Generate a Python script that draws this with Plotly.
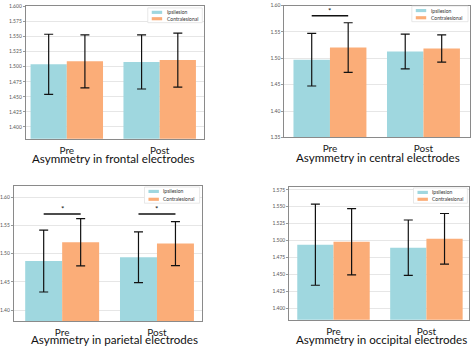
import plotly.graph_objects as go

W, H = 474, 351

categories = ["Pre", "Post"]
series_names = ["Ipsilesion", "Contralesional"]
titles = ["Asymmetry in frontal electrodes", "Asymmetry in central electrodes",
          "Asymmetry in parietal electrodes", "Asymmetry in occipital electrodes"]

# means per panel: [ipsi(Pre, Post), contra(Pre, Post)]
frontal_ipsi = [1.504, 1.508]
frontal_contra = [1.509, 1.511]
frontal_ipsi_err = [0.050, 0.045]
frontal_contra_err = [0.044, 0.045]

central_ipsi = [1.4975, 1.513]
central_contra = [1.5205, 1.5187]
central_ipsi_err = [0.050, 0.033]
central_contra_err = [0.047, 0.026]

parietal_ipsi = [1.487, 1.4936]
parietal_contra = [1.5203, 1.518]
parietal_ipsi_err = [0.055, 0.045]
parietal_contra_err = [0.042, 0.039]

occipital_ipsi = [1.4937, 1.4893]
occipital_contra = [1.4981, 1.5024]
occipital_ipsi_err = [0.060, 0.041]
occipital_contra_err = [0.049, 0.0375]

# significance bars: (panel index, category index, y value)
sig_marks = [(1, 0, 1.581), (2, 0, 1.5703), (2, 1, 1.5703)]

y_ticks = [
    [1.400, 1.425, 1.450, 1.475, 1.500, 1.525, 1.550, 1.575, 1.600],
    [1.35, 1.40, 1.45, 1.50, 1.55, 1.60],
    [1.40, 1.45, 1.50, 1.55, 1.60],
    [1.400, 1.425, 1.450, 1.475, 1.500, 1.525, 1.550, 1.575],
]
y_fmt = [".3f", ".2f", ".2f", ".3f"]

# layout (pixels): plot box x0, x1, y0(top), y1(bottom)
boxes = [(22, 202, 3, 138), (282.7, 470, 2.7, 136.7),
         (10, 199.3, 185.7, 324), (287.7, 469.3, 187.7, 322.3)]
x_ranges = [[-0.441, 1.48], [-0.488, 1.498], [-0.509, 1.471], [-0.476, 1.462]]
y_ranges = [[1.3805, 1.601], [1.35, 1.60], [1.3797, 1.621], [1.3826, 1.5784]]
title_pos = [(110.5, 158.5), (377, 157.5), (111, 342.5), (381, 342.5)]
legend_pos = [(149, 9.5, 16), (415.3, 7.7, 15), (145.7, 191.7, 199.7), (417, 192.7, 199.7)]

CYAN = "#9fd7df"
ORANGE = "#fbad78"

panels = [
    (frontal_ipsi, frontal_contra, frontal_ipsi_err, frontal_contra_err),
    (central_ipsi, central_contra, central_ipsi_err, central_contra_err),
    (parietal_ipsi, parietal_contra, parietal_ipsi_err, parietal_contra_err),
    (occipital_ipsi, occipital_contra, occipital_ipsi_err, occipital_contra_err),
]

fig = go.Figure()
layout = dict(width=W, height=H, margin=dict(l=0, r=0, t=0, b=0),
              paper_bgcolor="white", plot_bgcolor="white",
              barmode="group", bargap=0.22, bargroupgap=0, showlegend=False,
              font=dict(family="Lato, Open Sans, sans-serif"))
shapes = []
annotations = []

def px(x):
    return x / W

def py(y):
    return 1 - y / H

for i, (ipsi, contra, ie, ce) in enumerate(panels):
    n = "" if i == 0 else str(i + 1)
    xa, ya = "x" + n, "y" + n
    for vals, errs, col, name in [(ipsi, ie, CYAN, series_names[0]),
                                  (contra, ce, ORANGE, series_names[1])]:
        fig.add_trace(go.Bar(
            x=categories, y=vals, name=name, marker=dict(color=col, line=dict(width=0)),
            error_y=dict(type="data", array=errs, visible=True, color="#111",
                         thickness=1.2, width=4.5),
            xaxis=xa, yaxis=ya, offsetgroup=name))
    x0, x1, y0, y1 = boxes[i]
    layout["xaxis" + n] = dict(domain=[px(x0), px(x1)], anchor=ya, range=x_ranges[i],
                               showline=True, mirror=True, linecolor="#8a8a8a", linewidth=1,
                               ticks="", showgrid=False,
                               tickfont=dict(size=10, color="#1a1a1a"), ticklabelstandoff=2)
    layout["yaxis" + n] = dict(domain=[py(y1), py(y0)], anchor=xa, range=y_ranges[i],
                               tickvals=y_ticks[i], tickformat=y_fmt[i],
                               showline=True, mirror=True, linecolor="#8a8a8a", linewidth=1,
                               ticks="outside", ticklen=2, tickcolor="#999",
                               showgrid=True, gridcolor="#e6e6e6", gridwidth=1,
                               zeroline=False, tickfont=dict(size=5, color="#555"))
    tx, ty = title_pos[i]
    annotations.append(dict(x=px(tx), y=py(ty), xref="paper", yref="paper",
                            text=titles[i], showarrow=False, xanchor="center", yanchor="middle",
                            font=dict(size=11.6, color="#111")))
    lx, ly1, ly2 = legend_pos[i]
    shapes.append(dict(type="rect", xref="paper", yref="paper",
                       x0=px(lx - 4), x1=px(x1 - 2), y0=py(ly2 + 4), y1=py(ly1 - 4.5),
                       line=dict(color="#e2e2e2", width=0.8), fillcolor="white", layer="above"))
    for ly, col, name in [(ly1, CYAN, series_names[0]), (ly2, ORANGE, series_names[1])]:
        shapes.append(dict(type="rect", xref="paper", yref="paper",
                           x0=px(lx), x1=px(lx + 10.5), y0=py(ly + 1.6), y1=py(ly - 1.6),
                           fillcolor=col, line=dict(width=0), layer="above"))
        annotations.append(dict(x=px(lx + 13), y=py(ly), xref="paper", yref="paper",
                                text=name, showarrow=False, xanchor="left", yanchor="middle",
                                font=dict(size=5, color="#333")))

for (pi, ci, yv) in sig_marks:
    n = "" if pi == 0 else str(pi + 1)
    shapes.append(dict(type="line", xref="x" + n, yref="y" + n,
                       x0=ci - 0.195, x1=ci + 0.195, y0=yv, y1=yv,
                       line=dict(color="#111", width=1.5)))
    annotations.append(dict(x=ci, y=yv, xref="x" + n, yref="y" + n, text="*",
                            showarrow=False, yanchor="bottom", yshift=-2,
                            font=dict(size=8, color="#111")))

layout["shapes"] = shapes
layout["annotations"] = annotations
fig.update_layout(**layout)
fig.write_html("out.html")
